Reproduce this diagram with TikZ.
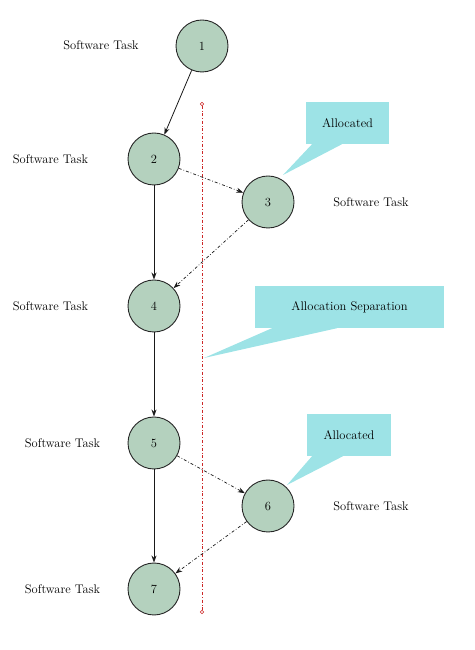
\documentclass[tikz,border=0pt]{standalone}
\usetikzlibrary{arrows.meta}
\definecolor{taskfill}{RGB}{180,209,190}
\definecolor{calloutfill}{RGB}{157,227,230}
\definecolor{seplinecol}{RGB}{205,40,40}
\begin{document}
\begin{tikzpicture}[x=1pt,y=1pt,
  font=\fontsize{12.5}{15}\selectfont,
  task/.style={circle,draw=black!85,line width=0.9pt,fill=taskfill,minimum size=52pt,inner sep=0pt},
  tasklabel/.style={inner sep=0pt},
  callbox/.style={fill=calloutfill,inner sep=0pt},
  flow/.style={draw=black!90,line width=0.8pt,-{Stealth[length=7pt,width=5pt]}},
  alloc/.style={draw=black!90,line width=0.7pt,dash dot,-{Stealth[length=7pt,width=5pt]}}]
\useasboundingbox (0,0) rectangle (474,650);

% separation line
\coordinate (septop) at (202,548);
\coordinate (sepbot) at (202,36);
\draw[seplinecol,line width=0.6pt,dash dot,{Circle[open,length=4pt]}-{Circle[open,length=4pt]}] (septop) -- (sepbot);

% callouts
\node[callbox,minimum width=83pt,minimum height=42pt] (c1) at (347.5,527) {};
\coordinate (c1tip) at (283,475);
\fill[calloutfill] ([xshift=-35.5pt]c1.south) -- (c1tip) -- ([xshift=-5.5pt]c1.south) -- cycle;
\node at (c1) {Allocated};

\node[callbox,minimum width=189pt,minimum height=42pt] (cs) at (349.5,343) {};
\coordinate (cstip) at (204,292);
\fill[calloutfill] ([xshift=-77.5pt]cs.south) -- (cstip) -- ([xshift=-12.5pt]cs.south) -- cycle;
\node at (cs) {Allocation Separation};

\node[callbox,minimum width=84pt,minimum height=42pt] (c2) at (349,215) {};
\coordinate (c2tip) at (287,165);
\fill[calloutfill] ([xshift=-37pt]c2.south) -- (c2tip) -- ([xshift=-6pt]c2.south) -- cycle;
\node at (c2) {Allocated};

% tasks
\node[task] (n1) at (202,604) {1};
\node[task] (n2) at (154,491) {2};
\node[task] (n3) at (268,448) {3};
\node[task] (n4) at (154,344) {4};
\node[task] (n5) at (154,207) {5};
\node[task] (n6) at (268,144) {6};
\node[task] (n7) at (154,61) {7};

% labels
\node[tasklabel] (l1) at (101,605) {Software Task};
\node[tasklabel] (l2) at (50.5,491) {Software Task};
\node[tasklabel] (l3) at (371,448) {Software Task};
\node[tasklabel] (l4) at (50.5,344) {Software Task};
\node[tasklabel] (l5) at (62.5,207) {Software Task};
\node[tasklabel] (l6) at (371,144) {Software Task};
\node[tasklabel] (l7) at (62.5,61) {Software Task};

% edges
\draw[flow] (n1) -- (n2);
\draw[flow] (n2) -- (n4);
\draw[flow] (n4) -- (n5);
\draw[flow] (n5) -- (n7);
\draw[alloc] (n2) -- (n3);
\draw[alloc] (n3) -- (n4);
\draw[alloc] (n5) -- (n6);
\draw[alloc] (n6) -- (n7);
\end{tikzpicture}
\end{document}
